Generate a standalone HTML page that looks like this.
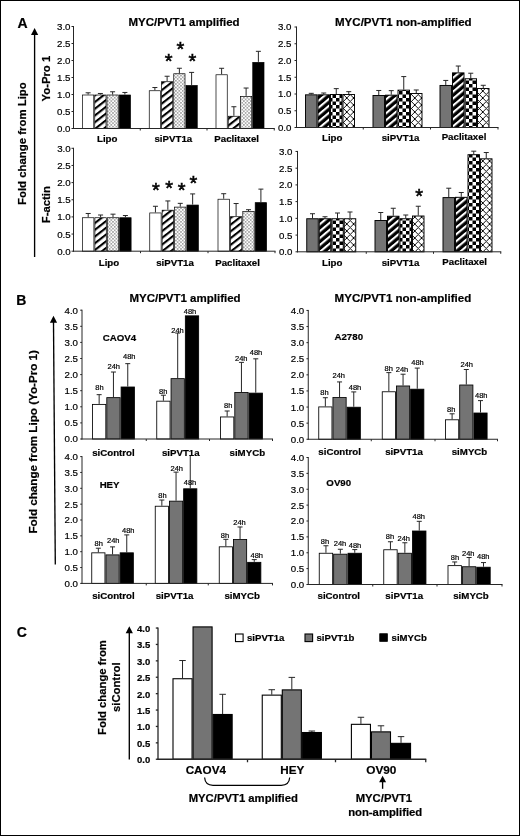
<!DOCTYPE html>
<html lang="en">
<head>
<meta charset="utf-8">
<title>Figure: MYC/PVT1 amplified vs non-amplified</title>
<style>
html,body{margin:0;padding:0;background:#fff;}
body{width:520px;height:836px;overflow:hidden;}
svg{display:block;font-family:"Liberation Sans",Arial,Helvetica,sans-serif;fill:#000;}
text{stroke:#000;stroke-width:0.2px;}
</style>
</head>
<body>
<svg width="520" height="836" viewBox="0 0 520 836">
<defs>
<pattern id="hatchL" width="8" height="5.3" patternUnits="userSpaceOnUse" patternTransform="rotate(-38)">
<rect width="8" height="5.3" fill="#fff"/><rect width="8" height="2.1" fill="#000"/>
</pattern>
<pattern id="hatchR" width="8" height="5.3" patternUnits="userSpaceOnUse" patternTransform="rotate(-40)">
<rect width="8" height="5.3" fill="#000"/><rect width="8" height="2.1" fill="#fff"/>
</pattern>
<pattern id="dots" width="3.4" height="3.4" patternUnits="userSpaceOnUse">
<rect width="3.4" height="3.4" fill="#fff"/><rect x="0.2" y="0.2" width="1.2" height="1.2" fill="#555"/><rect x="1.9" y="1.9" width="1.2" height="1.2" fill="#555"/>
</pattern>
<pattern id="check" width="7" height="7" patternUnits="userSpaceOnUse">
<rect width="7" height="7" fill="#fff"/><rect x="0" y="0" width="3.5" height="3.5" fill="#000"/><rect x="3.5" y="3.5" width="3.5" height="3.5" fill="#000"/>
</pattern>
<pattern id="cross" width="6.8" height="7" patternUnits="userSpaceOnUse">
<rect width="6.8" height="7" fill="#fff"/><path d="M0 0L6.8 7M6.8 0L0 7" stroke="#000" stroke-width="0.95" fill="none"/>
</pattern>
</defs>
<rect x="0" y="0" width="520" height="836" fill="#fff"/>
<rect x="0.5" y="0.5" width="519" height="835" fill="none" stroke="#000" stroke-width="1"/>
<line x1="88.12" y1="94.5" x2="88.12" y2="92.8" stroke="#262626" stroke-width="1"/>
<line x1="85.62" y1="92.8" x2="90.62" y2="92.8" stroke="#262626" stroke-width="1"/>
<rect x="82.5" y="95" width="11.25" height="33.5" fill="#fff" stroke="#000" stroke-width="0.7"/>
<line x1="100.38" y1="94.5" x2="100.38" y2="93.48" stroke="#262626" stroke-width="1"/>
<line x1="97.88" y1="93.48" x2="102.88" y2="93.48" stroke="#262626" stroke-width="1"/>
<rect x="94.75" y="95" width="11.25" height="33.5" fill="url(#hatchL)" stroke="#000" stroke-width="0.7"/>
<line x1="112.62" y1="94.5" x2="112.62" y2="91.78" stroke="#262626" stroke-width="1"/>
<line x1="110.12" y1="91.78" x2="115.12" y2="91.78" stroke="#262626" stroke-width="1"/>
<rect x="107" y="95" width="11.25" height="33.5" fill="url(#dots)" stroke="#000" stroke-width="0.7"/>
<line x1="124.88" y1="94.5" x2="124.88" y2="92.46" stroke="#262626" stroke-width="1"/>
<line x1="122.38" y1="92.46" x2="127.38" y2="92.46" stroke="#262626" stroke-width="1"/>
<rect x="119.25" y="95" width="11.25" height="33.5" fill="#000" stroke="#000" stroke-width="0.7"/>
<line x1="154.88" y1="90.25" x2="154.88" y2="87.53" stroke="#262626" stroke-width="1"/>
<line x1="152.38" y1="87.53" x2="157.38" y2="87.53" stroke="#262626" stroke-width="1"/>
<rect x="149.25" y="90.75" width="11.25" height="37.75" fill="#fff" stroke="#000" stroke-width="0.7"/>
<line x1="167.12" y1="81.24" x2="167.12" y2="76.24" stroke="#262626" stroke-width="1"/>
<line x1="164.62" y1="76.24" x2="169.62" y2="76.24" stroke="#262626" stroke-width="1"/>
<rect x="161.5" y="81.74" width="11.25" height="46.76" fill="url(#hatchL)" stroke="#000" stroke-width="0.7"/>
<line x1="179.38" y1="73.25" x2="179.38" y2="68.25" stroke="#262626" stroke-width="1"/>
<line x1="176.88" y1="68.25" x2="181.88" y2="68.25" stroke="#262626" stroke-width="1"/>
<rect x="173.75" y="73.75" width="11.25" height="54.75" fill="url(#dots)" stroke="#000" stroke-width="0.7"/>
<line x1="191.62" y1="84.98" x2="191.62" y2="72.4" stroke="#262626" stroke-width="1"/>
<line x1="189.12" y1="72.4" x2="194.12" y2="72.4" stroke="#262626" stroke-width="1"/>
<rect x="186" y="85.48" width="11.25" height="43.02" fill="#000" stroke="#000" stroke-width="0.7"/>
<line x1="221.62" y1="74.27" x2="221.62" y2="68.29" stroke="#262626" stroke-width="1"/>
<line x1="219.12" y1="68.29" x2="224.12" y2="68.29" stroke="#262626" stroke-width="1"/>
<rect x="216" y="74.77" width="11.25" height="53.73" fill="#fff" stroke="#000" stroke-width="0.7"/>
<line x1="233.88" y1="115.75" x2="233.88" y2="106.74" stroke="#262626" stroke-width="1"/>
<line x1="231.38" y1="106.74" x2="236.38" y2="106.74" stroke="#262626" stroke-width="1"/>
<rect x="228.25" y="116.25" width="11.25" height="12.25" fill="url(#hatchL)" stroke="#000" stroke-width="0.7"/>
<line x1="246.12" y1="95.86" x2="246.12" y2="88.04" stroke="#262626" stroke-width="1"/>
<line x1="243.62" y1="88.04" x2="248.62" y2="88.04" stroke="#262626" stroke-width="1"/>
<rect x="240.5" y="96.36" width="11.25" height="32.14" fill="url(#dots)" stroke="#000" stroke-width="0.7"/>
<line x1="258.38" y1="61.86" x2="258.38" y2="51.32" stroke="#262626" stroke-width="1"/>
<line x1="255.88" y1="51.32" x2="260.88" y2="51.32" stroke="#262626" stroke-width="1"/>
<rect x="252.75" y="62.36" width="11.25" height="66.14" fill="#000" stroke="#000" stroke-width="0.7"/>
<line x1="73.5" y1="26" x2="73.5" y2="129" stroke="#262626" stroke-width="1"/>
<line x1="71.5" y1="128.5" x2="73.5" y2="128.5" stroke="#262626" stroke-width="1"/>
<text x="70.5" y="131.99" font-size="9.7" text-anchor="end">0.0</text>
<line x1="71.5" y1="111.5" x2="73.5" y2="111.5" stroke="#262626" stroke-width="1"/>
<text x="70.5" y="114.99" font-size="9.7" text-anchor="end">0.5</text>
<line x1="71.5" y1="94.5" x2="73.5" y2="94.5" stroke="#262626" stroke-width="1"/>
<text x="70.5" y="97.99" font-size="9.7" text-anchor="end">1.0</text>
<line x1="71.5" y1="77.5" x2="73.5" y2="77.5" stroke="#262626" stroke-width="1"/>
<text x="70.5" y="80.99" font-size="9.7" text-anchor="end">1.5</text>
<line x1="71.5" y1="60.5" x2="73.5" y2="60.5" stroke="#262626" stroke-width="1"/>
<text x="70.5" y="63.99" font-size="9.7" text-anchor="end">2.0</text>
<line x1="71.5" y1="43.5" x2="73.5" y2="43.5" stroke="#262626" stroke-width="1"/>
<text x="70.5" y="46.99" font-size="9.7" text-anchor="end">2.5</text>
<line x1="71.5" y1="26.5" x2="73.5" y2="26.5" stroke="#262626" stroke-width="1"/>
<text x="70.5" y="29.99" font-size="9.7" text-anchor="end">3.0</text>
<line x1="73" y1="128.5" x2="274.75" y2="128.5" stroke="#262626" stroke-width="1"/>
<line x1="140.25" y1="128.5" x2="140.25" y2="130.5" stroke="#262626" stroke-width="1"/>
<line x1="207" y1="128.5" x2="207" y2="130.5" stroke="#262626" stroke-width="1"/>
<line x1="274.25" y1="128.5" x2="274.25" y2="130.5" stroke="#262626" stroke-width="1"/>
<line x1="311.25" y1="94.34" x2="311.25" y2="93.33" stroke="#262626" stroke-width="1"/>
<line x1="308.75" y1="93.33" x2="313.75" y2="93.33" stroke="#262626" stroke-width="1"/>
<rect x="305.5" y="94.84" width="11.5" height="32.66" fill="#747474" stroke="#000" stroke-width="0.95"/>
<line x1="323.75" y1="94.34" x2="323.75" y2="93" stroke="#262626" stroke-width="1"/>
<line x1="321.25" y1="93" x2="326.25" y2="93" stroke="#262626" stroke-width="1"/>
<rect x="318" y="94.84" width="11.5" height="32.66" fill="url(#hatchR)" stroke="#000" stroke-width="0.95"/>
<line x1="336.25" y1="94" x2="336.25" y2="88.64" stroke="#262626" stroke-width="1"/>
<line x1="333.75" y1="88.64" x2="338.75" y2="88.64" stroke="#262626" stroke-width="1"/>
<rect x="330.5" y="94.5" width="11.5" height="33" fill="url(#check)" stroke="#000" stroke-width="0.95"/>
<line x1="348.75" y1="94" x2="348.75" y2="91.66" stroke="#262626" stroke-width="1"/>
<line x1="346.25" y1="91.66" x2="351.25" y2="91.66" stroke="#262626" stroke-width="1"/>
<rect x="343" y="94.5" width="11.5" height="33" fill="url(#cross)" stroke="#000" stroke-width="0.95"/>
<line x1="378.75" y1="95" x2="378.75" y2="90.48" stroke="#262626" stroke-width="1"/>
<line x1="376.25" y1="90.48" x2="381.25" y2="90.48" stroke="#262626" stroke-width="1"/>
<rect x="373" y="95.5" width="11.5" height="32" fill="#747474" stroke="#000" stroke-width="0.95"/>
<line x1="391.25" y1="94.67" x2="391.25" y2="90.65" stroke="#262626" stroke-width="1"/>
<line x1="388.75" y1="90.65" x2="393.75" y2="90.65" stroke="#262626" stroke-width="1"/>
<rect x="385.5" y="95.17" width="11.5" height="32.33" fill="url(#hatchR)" stroke="#000" stroke-width="0.95"/>
<line x1="403.75" y1="89.65" x2="403.75" y2="76.58" stroke="#262626" stroke-width="1"/>
<line x1="401.25" y1="76.58" x2="406.25" y2="76.58" stroke="#262626" stroke-width="1"/>
<rect x="398" y="90.15" width="11.5" height="37.35" fill="url(#check)" stroke="#000" stroke-width="0.95"/>
<line x1="416.25" y1="93" x2="416.25" y2="89.98" stroke="#262626" stroke-width="1"/>
<line x1="413.75" y1="89.98" x2="418.75" y2="89.98" stroke="#262626" stroke-width="1"/>
<rect x="410.5" y="93.5" width="11.5" height="34" fill="url(#cross)" stroke="#000" stroke-width="0.95"/>
<line x1="445.75" y1="84.95" x2="445.75" y2="80.43" stroke="#262626" stroke-width="1"/>
<line x1="443.25" y1="80.43" x2="448.25" y2="80.43" stroke="#262626" stroke-width="1"/>
<rect x="440" y="85.45" width="11.5" height="42.05" fill="#747474" stroke="#000" stroke-width="0.95"/>
<line x1="458.25" y1="72.39" x2="458.25" y2="66.03" stroke="#262626" stroke-width="1"/>
<line x1="455.75" y1="66.03" x2="460.75" y2="66.03" stroke="#262626" stroke-width="1"/>
<rect x="452.5" y="72.89" width="11.5" height="54.61" fill="url(#hatchR)" stroke="#000" stroke-width="0.95"/>
<line x1="470.75" y1="78.25" x2="470.75" y2="73.23" stroke="#262626" stroke-width="1"/>
<line x1="468.25" y1="73.23" x2="473.25" y2="73.23" stroke="#262626" stroke-width="1"/>
<rect x="465" y="78.75" width="11.5" height="48.75" fill="url(#check)" stroke="#000" stroke-width="0.95"/>
<line x1="483.25" y1="87.97" x2="483.25" y2="85.29" stroke="#262626" stroke-width="1"/>
<line x1="480.75" y1="85.29" x2="485.75" y2="85.29" stroke="#262626" stroke-width="1"/>
<rect x="477.5" y="88.47" width="11.5" height="39.03" fill="url(#cross)" stroke="#000" stroke-width="0.95"/>
<line x1="296.5" y1="26.5" x2="296.5" y2="128" stroke="#262626" stroke-width="1"/>
<line x1="294.5" y1="127.5" x2="296.5" y2="127.5" stroke="#262626" stroke-width="1"/>
<text x="291.4" y="130.99" font-size="9.7" text-anchor="end">0.0</text>
<line x1="294.5" y1="110.75" x2="296.5" y2="110.75" stroke="#262626" stroke-width="1"/>
<text x="291.4" y="114.24" font-size="9.7" text-anchor="end">0.5</text>
<line x1="294.5" y1="94" x2="296.5" y2="94" stroke="#262626" stroke-width="1"/>
<text x="291.4" y="97.49" font-size="9.7" text-anchor="end">1.0</text>
<line x1="294.5" y1="77.25" x2="296.5" y2="77.25" stroke="#262626" stroke-width="1"/>
<text x="291.4" y="80.74" font-size="9.7" text-anchor="end">1.5</text>
<line x1="294.5" y1="60.5" x2="296.5" y2="60.5" stroke="#262626" stroke-width="1"/>
<text x="291.4" y="63.99" font-size="9.7" text-anchor="end">2.0</text>
<line x1="294.5" y1="43.75" x2="296.5" y2="43.75" stroke="#262626" stroke-width="1"/>
<text x="291.4" y="47.24" font-size="9.7" text-anchor="end">2.5</text>
<line x1="294.5" y1="27" x2="296.5" y2="27" stroke="#262626" stroke-width="1"/>
<text x="291.4" y="30.49" font-size="9.7" text-anchor="end">3.0</text>
<line x1="296" y1="127.5" x2="498.5" y2="127.5" stroke="#262626" stroke-width="1"/>
<line x1="363.25" y1="127.5" x2="363.25" y2="129.5" stroke="#262626" stroke-width="1"/>
<line x1="430.5" y1="127.5" x2="430.5" y2="129.5" stroke="#262626" stroke-width="1"/>
<line x1="498" y1="127.5" x2="498" y2="129.5" stroke="#262626" stroke-width="1"/>
<line x1="88.2" y1="217.24" x2="88.2" y2="213.47" stroke="#262626" stroke-width="1"/>
<line x1="85.7" y1="213.47" x2="90.7" y2="213.47" stroke="#262626" stroke-width="1"/>
<rect x="82.5" y="217.74" width="11.4" height="33.46" fill="#fff" stroke="#000" stroke-width="0.7"/>
<line x1="100.6" y1="217.24" x2="100.6" y2="215.01" stroke="#262626" stroke-width="1"/>
<line x1="98.1" y1="215.01" x2="103.1" y2="215.01" stroke="#262626" stroke-width="1"/>
<rect x="94.9" y="217.74" width="11.4" height="33.46" fill="url(#hatchL)" stroke="#000" stroke-width="0.7"/>
<line x1="113" y1="217.24" x2="113" y2="214.16" stroke="#262626" stroke-width="1"/>
<line x1="110.5" y1="214.16" x2="115.5" y2="214.16" stroke="#262626" stroke-width="1"/>
<rect x="107.3" y="217.74" width="11.4" height="33.46" fill="url(#dots)" stroke="#000" stroke-width="0.7"/>
<line x1="125.4" y1="217.24" x2="125.4" y2="215.53" stroke="#262626" stroke-width="1"/>
<line x1="122.9" y1="215.53" x2="127.9" y2="215.53" stroke="#262626" stroke-width="1"/>
<rect x="119.7" y="217.74" width="11.4" height="33.46" fill="#000" stroke="#000" stroke-width="0.7"/>
<line x1="155.45" y1="212.44" x2="155.45" y2="206.27" stroke="#262626" stroke-width="1"/>
<line x1="152.95" y1="206.27" x2="157.95" y2="206.27" stroke="#262626" stroke-width="1"/>
<rect x="149.75" y="212.94" width="11.4" height="38.26" fill="#fff" stroke="#000" stroke-width="0.7"/>
<line x1="167.85" y1="209.7" x2="167.85" y2="200.95" stroke="#262626" stroke-width="1"/>
<line x1="165.35" y1="200.95" x2="170.35" y2="200.95" stroke="#262626" stroke-width="1"/>
<rect x="162.15" y="210.2" width="11.4" height="41" fill="url(#hatchL)" stroke="#000" stroke-width="0.7"/>
<line x1="180.25" y1="206.61" x2="180.25" y2="203.35" stroke="#262626" stroke-width="1"/>
<line x1="177.75" y1="203.35" x2="182.75" y2="203.35" stroke="#262626" stroke-width="1"/>
<rect x="174.55" y="207.11" width="11.4" height="44.09" fill="url(#dots)" stroke="#000" stroke-width="0.7"/>
<line x1="192.65" y1="204.55" x2="192.65" y2="193.92" stroke="#262626" stroke-width="1"/>
<line x1="190.15" y1="193.92" x2="195.15" y2="193.92" stroke="#262626" stroke-width="1"/>
<rect x="186.95" y="205.05" width="11.4" height="46.15" fill="#000" stroke="#000" stroke-width="0.7"/>
<line x1="223.7" y1="198.72" x2="223.7" y2="193.71" stroke="#262626" stroke-width="1"/>
<line x1="221.2" y1="193.71" x2="226.2" y2="193.71" stroke="#262626" stroke-width="1"/>
<rect x="218" y="199.22" width="11.4" height="51.98" fill="#fff" stroke="#000" stroke-width="0.7"/>
<line x1="236.1" y1="216.21" x2="236.1" y2="203.52" stroke="#262626" stroke-width="1"/>
<line x1="233.6" y1="203.52" x2="238.6" y2="203.52" stroke="#262626" stroke-width="1"/>
<rect x="230.4" y="216.71" width="11.4" height="34.49" fill="url(#hatchL)" stroke="#000" stroke-width="0.7"/>
<line x1="248.5" y1="211.07" x2="248.5" y2="209.7" stroke="#262626" stroke-width="1"/>
<line x1="246" y1="209.7" x2="251" y2="209.7" stroke="#262626" stroke-width="1"/>
<rect x="242.8" y="211.57" width="11.4" height="39.63" fill="url(#dots)" stroke="#000" stroke-width="0.7"/>
<line x1="260.9" y1="202.15" x2="260.9" y2="189.12" stroke="#262626" stroke-width="1"/>
<line x1="258.4" y1="189.12" x2="263.4" y2="189.12" stroke="#262626" stroke-width="1"/>
<rect x="255.2" y="202.65" width="11.4" height="48.55" fill="#000" stroke="#000" stroke-width="0.7"/>
<line x1="73.5" y1="147.8" x2="73.5" y2="251.7" stroke="#262626" stroke-width="1"/>
<line x1="71.5" y1="251.2" x2="73.5" y2="251.2" stroke="#262626" stroke-width="1"/>
<text x="70.7" y="254.69" font-size="9.7" text-anchor="end">0.0</text>
<line x1="71.5" y1="234.05" x2="73.5" y2="234.05" stroke="#262626" stroke-width="1"/>
<text x="70.7" y="237.54" font-size="9.7" text-anchor="end">0.5</text>
<line x1="71.5" y1="216.9" x2="73.5" y2="216.9" stroke="#262626" stroke-width="1"/>
<text x="70.7" y="220.39" font-size="9.7" text-anchor="end">1.0</text>
<line x1="71.5" y1="199.75" x2="73.5" y2="199.75" stroke="#262626" stroke-width="1"/>
<text x="70.7" y="203.24" font-size="9.7" text-anchor="end">1.5</text>
<line x1="71.5" y1="182.6" x2="73.5" y2="182.6" stroke="#262626" stroke-width="1"/>
<text x="70.7" y="186.09" font-size="9.7" text-anchor="end">2.0</text>
<line x1="71.5" y1="165.45" x2="73.5" y2="165.45" stroke="#262626" stroke-width="1"/>
<text x="70.7" y="168.94" font-size="9.7" text-anchor="end">2.5</text>
<line x1="71.5" y1="148.3" x2="73.5" y2="148.3" stroke="#262626" stroke-width="1"/>
<text x="70.7" y="151.79" font-size="9.7" text-anchor="end">3.0</text>
<line x1="73" y1="251.2" x2="275.5" y2="251.2" stroke="#262626" stroke-width="1"/>
<line x1="140.5" y1="251.2" x2="140.5" y2="253.2" stroke="#262626" stroke-width="1"/>
<line x1="208" y1="251.2" x2="208" y2="253.2" stroke="#262626" stroke-width="1"/>
<line x1="275" y1="251.2" x2="275" y2="253.2" stroke="#262626" stroke-width="1"/>
<line x1="312.5" y1="218.25" x2="312.5" y2="213.73" stroke="#262626" stroke-width="1"/>
<line x1="310" y1="213.73" x2="315" y2="213.73" stroke="#262626" stroke-width="1"/>
<rect x="306.75" y="218.75" width="11.5" height="33.05" fill="#747474" stroke="#000" stroke-width="0.95"/>
<line x1="325" y1="218.25" x2="325" y2="216.74" stroke="#262626" stroke-width="1"/>
<line x1="322.5" y1="216.74" x2="327.5" y2="216.74" stroke="#262626" stroke-width="1"/>
<rect x="319.25" y="218.75" width="11.5" height="33.05" fill="url(#hatchR)" stroke="#000" stroke-width="0.95"/>
<line x1="337.5" y1="218.25" x2="337.5" y2="213" stroke="#262626" stroke-width="1"/>
<line x1="335" y1="213" x2="340" y2="213" stroke="#262626" stroke-width="1"/>
<rect x="331.75" y="218.75" width="11.5" height="33.05" fill="url(#check)" stroke="#000" stroke-width="0.95"/>
<line x1="350" y1="218.25" x2="350" y2="211.99" stroke="#262626" stroke-width="1"/>
<line x1="347.5" y1="211.99" x2="352.5" y2="211.99" stroke="#262626" stroke-width="1"/>
<rect x="344.25" y="218.75" width="11.5" height="33.05" fill="url(#cross)" stroke="#000" stroke-width="0.95"/>
<line x1="380.75" y1="219.99" x2="380.75" y2="212.5" stroke="#262626" stroke-width="1"/>
<line x1="378.25" y1="212.5" x2="383.25" y2="212.5" stroke="#262626" stroke-width="1"/>
<rect x="375" y="220.49" width="11.5" height="31.31" fill="#747474" stroke="#000" stroke-width="0.95"/>
<line x1="393.25" y1="215.74" x2="393.25" y2="208.25" stroke="#262626" stroke-width="1"/>
<line x1="390.75" y1="208.25" x2="395.75" y2="208.25" stroke="#262626" stroke-width="1"/>
<rect x="387.5" y="216.24" width="11.5" height="35.56" fill="url(#hatchR)" stroke="#000" stroke-width="0.95"/>
<line x1="405.75" y1="218.25" x2="405.75" y2="215" stroke="#262626" stroke-width="1"/>
<line x1="403.25" y1="215" x2="408.25" y2="215" stroke="#262626" stroke-width="1"/>
<rect x="400" y="218.75" width="11.5" height="33.05" fill="url(#check)" stroke="#000" stroke-width="0.95"/>
<line x1="418.25" y1="215.51" x2="418.25" y2="206.24" stroke="#262626" stroke-width="1"/>
<line x1="415.75" y1="206.24" x2="420.75" y2="206.24" stroke="#262626" stroke-width="1"/>
<rect x="412.5" y="216.01" width="11.5" height="35.79" fill="url(#cross)" stroke="#000" stroke-width="0.95"/>
<line x1="448.75" y1="197.11" x2="448.75" y2="188.21" stroke="#262626" stroke-width="1"/>
<line x1="446.25" y1="188.21" x2="451.25" y2="188.21" stroke="#262626" stroke-width="1"/>
<rect x="443" y="197.61" width="11.5" height="54.19" fill="#747474" stroke="#000" stroke-width="0.95"/>
<line x1="461.25" y1="196.81" x2="461.25" y2="192.49" stroke="#262626" stroke-width="1"/>
<line x1="458.75" y1="192.49" x2="463.75" y2="192.49" stroke="#262626" stroke-width="1"/>
<rect x="455.5" y="197.31" width="11.5" height="54.49" fill="url(#hatchR)" stroke="#000" stroke-width="0.95"/>
<line x1="473.75" y1="154.19" x2="473.75" y2="151.18" stroke="#262626" stroke-width="1"/>
<line x1="471.25" y1="151.18" x2="476.25" y2="151.18" stroke="#262626" stroke-width="1"/>
<rect x="468" y="154.69" width="11.5" height="97.11" fill="url(#check)" stroke="#000" stroke-width="0.95"/>
<line x1="486.25" y1="158.31" x2="486.25" y2="152.52" stroke="#262626" stroke-width="1"/>
<line x1="483.75" y1="152.52" x2="488.75" y2="152.52" stroke="#262626" stroke-width="1"/>
<rect x="480.5" y="158.81" width="11.5" height="92.99" fill="url(#cross)" stroke="#000" stroke-width="0.95"/>
<line x1="297.5" y1="150.95" x2="297.5" y2="252.3" stroke="#262626" stroke-width="1"/>
<line x1="295.5" y1="251.8" x2="297.5" y2="251.8" stroke="#262626" stroke-width="1"/>
<text x="292.4" y="255.29" font-size="9.7" text-anchor="end">0.0</text>
<line x1="295.5" y1="235.08" x2="297.5" y2="235.08" stroke="#262626" stroke-width="1"/>
<text x="292.4" y="238.57" font-size="9.7" text-anchor="end">0.5</text>
<line x1="295.5" y1="218.35" x2="297.5" y2="218.35" stroke="#262626" stroke-width="1"/>
<text x="292.4" y="221.84" font-size="9.7" text-anchor="end">1.0</text>
<line x1="295.5" y1="201.62" x2="297.5" y2="201.62" stroke="#262626" stroke-width="1"/>
<text x="292.4" y="205.12" font-size="9.7" text-anchor="end">1.5</text>
<line x1="295.5" y1="184.9" x2="297.5" y2="184.9" stroke="#262626" stroke-width="1"/>
<text x="292.4" y="188.39" font-size="9.7" text-anchor="end">2.0</text>
<line x1="295.5" y1="168.18" x2="297.5" y2="168.18" stroke="#262626" stroke-width="1"/>
<text x="292.4" y="171.67" font-size="9.7" text-anchor="end">2.5</text>
<line x1="295.5" y1="151.45" x2="297.5" y2="151.45" stroke="#262626" stroke-width="1"/>
<text x="292.4" y="154.94" font-size="9.7" text-anchor="end">3.0</text>
<line x1="297" y1="251.8" x2="501.25" y2="251.8" stroke="#262626" stroke-width="1"/>
<line x1="366.25" y1="251.8" x2="366.25" y2="253.8" stroke="#262626" stroke-width="1"/>
<line x1="433.5" y1="251.8" x2="433.5" y2="253.8" stroke="#262626" stroke-width="1"/>
<line x1="500.75" y1="251.8" x2="500.75" y2="253.8" stroke="#262626" stroke-width="1"/>
<text x="107.25" y="141.8" font-size="9.7" font-weight="bold" text-anchor="middle">Lipo</text>
<text x="173.35" y="141.8" font-size="9.7" font-weight="bold" text-anchor="middle">siPVT1a</text>
<text x="236.7" y="141.8" font-size="9.7" font-weight="bold" text-anchor="middle">Paclitaxel</text>
<text x="332.25" y="141.3" font-size="9.7" font-weight="bold" text-anchor="middle">Lipo</text>
<text x="400.6" y="141.3" font-size="9.7" font-weight="bold" text-anchor="middle">siPVT1a</text>
<text x="464" y="140.3" font-size="9.7" font-weight="bold" text-anchor="middle">Paclitaxel</text>
<text x="109" y="265.5" font-size="9.7" font-weight="bold" text-anchor="middle">Lipo</text>
<text x="175" y="265.5" font-size="9.7" font-weight="bold" text-anchor="middle">siPVT1a</text>
<text x="237.6" y="266" font-size="9.7" font-weight="bold" text-anchor="middle">Paclitaxel</text>
<text x="332.2" y="266" font-size="9.7" font-weight="bold" text-anchor="middle">Lipo</text>
<text x="400.5" y="266" font-size="9.7" font-weight="bold" text-anchor="middle">siPVT1a</text>
<text x="464.7" y="264.6" font-size="9.7" font-weight="bold" text-anchor="middle">Paclitaxel</text>
<text x="168.65" y="68.45" font-size="20" text-anchor="middle" style="stroke-width:.55px">*</text>
<text x="180.4" y="56.45" font-size="20" text-anchor="middle" style="stroke-width:.55px">*</text>
<text x="192.4" y="68.45" font-size="20" text-anchor="middle" style="stroke-width:.55px">*</text>
<text x="155.9" y="196.7" font-size="20" text-anchor="middle" style="stroke-width:.55px">*</text>
<text x="169.15" y="195.45" font-size="20" text-anchor="middle" style="stroke-width:.55px">*</text>
<text x="181.65" y="196.7" font-size="20" text-anchor="middle" style="stroke-width:.55px">*</text>
<text x="193.4" y="189.7" font-size="20" text-anchor="middle" style="stroke-width:.55px">*</text>
<text x="419.15" y="202.7" font-size="20" text-anchor="middle" style="stroke-width:.55px">*</text>
<text x="184" y="26" font-size="11.5" font-weight="bold" text-anchor="middle">MYC/PVT1 amplified</text>
<text x="403.3" y="26" font-size="11.55" font-weight="bold" text-anchor="middle">MYC/PVT1 non-amplified</text>
<text x="22.5" y="27.5" font-size="14" font-weight="bold" text-anchor="middle">A</text>
<text x="26.1" y="143.6" font-size="11.4" font-weight="bold" text-anchor="middle" transform="rotate(-90 26.1 143.6)">Fold change from Lipo</text>
<text x="49.9" y="78.6" font-size="11.3" font-weight="bold" text-anchor="middle" transform="rotate(-90 49.9 78.6)">Yo-Pro 1</text>
<text x="49.9" y="204.7" font-size="11.3" font-weight="bold" text-anchor="middle" transform="rotate(-90 49.9 204.7)">F-actin</text>
<line x1="34.6" y1="34" x2="34.6" y2="257" stroke="#000" stroke-width="1.35"/>
<path d="M34.6 28L38.2 35L31 35Z" fill="#000"/>
<line x1="99.15" y1="403.9" x2="99.15" y2="394.66" stroke="#262626" stroke-width="1"/>
<line x1="96.65" y1="394.66" x2="101.65" y2="394.66" stroke="#262626" stroke-width="1"/>
<rect x="92.5" y="404.4" width="13.3" height="34.6" fill="#fff" stroke="#000" stroke-width="0.85"/>
<line x1="113.45" y1="397.14" x2="113.45" y2="372.02" stroke="#262626" stroke-width="1"/>
<line x1="110.95" y1="372.02" x2="115.95" y2="372.02" stroke="#262626" stroke-width="1"/>
<rect x="106.8" y="397.64" width="13.3" height="41.36" fill="#747474" stroke="#000" stroke-width="0.85"/>
<line x1="127.75" y1="386.51" x2="127.75" y2="363.65" stroke="#262626" stroke-width="1"/>
<line x1="125.25" y1="363.65" x2="130.25" y2="363.65" stroke="#262626" stroke-width="1"/>
<rect x="121.1" y="387.01" width="13.3" height="51.99" fill="#000" stroke="#000" stroke-width="0.85"/>
<line x1="163.4" y1="400.68" x2="163.4" y2="395.21" stroke="#262626" stroke-width="1"/>
<line x1="160.9" y1="395.21" x2="165.9" y2="395.21" stroke="#262626" stroke-width="1"/>
<rect x="156.75" y="401.18" width="13.3" height="37.82" fill="#fff" stroke="#000" stroke-width="0.85"/>
<line x1="177.7" y1="378.14" x2="177.7" y2="333.06" stroke="#262626" stroke-width="1"/>
<line x1="175.2" y1="333.06" x2="180.2" y2="333.06" stroke="#262626" stroke-width="1"/>
<rect x="171.05" y="378.64" width="13.3" height="60.36" fill="#747474" stroke="#000" stroke-width="0.85"/>
<rect x="185.35" y="315.85" width="13.3" height="123.15" fill="#000" stroke="#000" stroke-width="0.85"/>
<line x1="227.15" y1="416.46" x2="227.15" y2="410.99" stroke="#262626" stroke-width="1"/>
<line x1="224.65" y1="410.99" x2="229.65" y2="410.99" stroke="#262626" stroke-width="1"/>
<rect x="220.5" y="416.96" width="13.3" height="22.04" fill="#fff" stroke="#000" stroke-width="0.85"/>
<line x1="241.45" y1="391.99" x2="241.45" y2="362.36" stroke="#262626" stroke-width="1"/>
<line x1="238.95" y1="362.36" x2="243.95" y2="362.36" stroke="#262626" stroke-width="1"/>
<rect x="234.8" y="392.49" width="13.3" height="46.51" fill="#747474" stroke="#000" stroke-width="0.85"/>
<line x1="255.75" y1="392.63" x2="255.75" y2="358.82" stroke="#262626" stroke-width="1"/>
<line x1="253.25" y1="358.82" x2="258.25" y2="358.82" stroke="#262626" stroke-width="1"/>
<rect x="249.1" y="393.13" width="13.3" height="45.87" fill="#000" stroke="#000" stroke-width="0.85"/>
<line x1="82" y1="309.7" x2="82" y2="439.5" stroke="#262626" stroke-width="1"/>
<line x1="80.2" y1="439" x2="82" y2="439" stroke="#262626" stroke-width="1"/>
<text x="78" y="442.49" font-size="9.7" text-anchor="end">0.0</text>
<line x1="80.2" y1="422.9" x2="82" y2="422.9" stroke="#262626" stroke-width="1"/>
<text x="78" y="426.39" font-size="9.7" text-anchor="end">0.5</text>
<line x1="80.2" y1="406.8" x2="82" y2="406.8" stroke="#262626" stroke-width="1"/>
<text x="78" y="410.29" font-size="9.7" text-anchor="end">1.0</text>
<line x1="80.2" y1="390.7" x2="82" y2="390.7" stroke="#262626" stroke-width="1"/>
<text x="78" y="394.19" font-size="9.7" text-anchor="end">1.5</text>
<line x1="80.2" y1="374.6" x2="82" y2="374.6" stroke="#262626" stroke-width="1"/>
<text x="78" y="378.09" font-size="9.7" text-anchor="end">2.0</text>
<line x1="80.2" y1="358.5" x2="82" y2="358.5" stroke="#262626" stroke-width="1"/>
<text x="78" y="361.99" font-size="9.7" text-anchor="end">2.5</text>
<line x1="80.2" y1="342.4" x2="82" y2="342.4" stroke="#262626" stroke-width="1"/>
<text x="78" y="345.89" font-size="9.7" text-anchor="end">3.0</text>
<line x1="80.2" y1="326.3" x2="82" y2="326.3" stroke="#262626" stroke-width="1"/>
<text x="78" y="329.79" font-size="9.7" text-anchor="end">3.5</text>
<line x1="80.2" y1="310.2" x2="82" y2="310.2" stroke="#262626" stroke-width="1"/>
<text x="78" y="313.69" font-size="9.7" text-anchor="end">4.0</text>
<line x1="81.5" y1="439" x2="273" y2="439" stroke="#262626" stroke-width="1"/>
<line x1="146.25" y1="439" x2="146.25" y2="441" stroke="#262626" stroke-width="1"/>
<line x1="209.5" y1="439" x2="209.5" y2="441" stroke="#262626" stroke-width="1"/>
<line x1="272.5" y1="439" x2="272.5" y2="441" stroke="#262626" stroke-width="1"/>
<text x="99.5" y="390" font-size="7.5" text-anchor="middle">8h</text>
<text x="113.75" y="369.25" font-size="7.5" text-anchor="middle">24h</text>
<text x="129.25" y="359.25" font-size="7.5" text-anchor="middle">48h</text>
<text x="163.25" y="393.75" font-size="7.5" text-anchor="middle">8h</text>
<text x="177.5" y="332.5" font-size="7.5" text-anchor="middle">24h</text>
<text x="190" y="313.75" font-size="7.5" text-anchor="middle">48h</text>
<text x="228.25" y="407.5" font-size="7.5" text-anchor="middle">8h</text>
<text x="241.25" y="360.5" font-size="7.5" text-anchor="middle">24h</text>
<text x="256" y="355" font-size="7.5" text-anchor="middle">48h</text>
<line x1="98.35" y1="552.33" x2="98.35" y2="548.21" stroke="#262626" stroke-width="1"/>
<line x1="95.85" y1="548.21" x2="100.85" y2="548.21" stroke="#262626" stroke-width="1"/>
<rect x="91.75" y="552.83" width="13.2" height="30.57" fill="#fff" stroke="#000" stroke-width="0.85"/>
<line x1="112.55" y1="554.39" x2="112.55" y2="546.88" stroke="#262626" stroke-width="1"/>
<line x1="110.05" y1="546.88" x2="115.05" y2="546.88" stroke="#262626" stroke-width="1"/>
<rect x="105.95" y="554.89" width="13.2" height="28.51" fill="#747474" stroke="#000" stroke-width="0.85"/>
<line x1="126.75" y1="552.33" x2="126.75" y2="534.9" stroke="#262626" stroke-width="1"/>
<line x1="124.25" y1="534.9" x2="129.25" y2="534.9" stroke="#262626" stroke-width="1"/>
<rect x="120.15" y="552.83" width="13.2" height="30.57" fill="#000" stroke="#000" stroke-width="0.85"/>
<line x1="161.85" y1="505.73" x2="161.85" y2="500.03" stroke="#262626" stroke-width="1"/>
<line x1="159.35" y1="500.03" x2="164.35" y2="500.03" stroke="#262626" stroke-width="1"/>
<rect x="155.25" y="506.23" width="13.2" height="77.17" fill="#fff" stroke="#000" stroke-width="0.85"/>
<line x1="176.05" y1="500.66" x2="176.05" y2="472.13" stroke="#262626" stroke-width="1"/>
<line x1="173.55" y1="472.13" x2="178.55" y2="472.13" stroke="#262626" stroke-width="1"/>
<rect x="169.45" y="501.16" width="13.2" height="82.24" fill="#747474" stroke="#000" stroke-width="0.85"/>
<line x1="190.25" y1="488.3" x2="190.25" y2="456" stroke="#262626" stroke-width="1"/>
<rect x="183.65" y="488.8" width="13.2" height="94.6" fill="#000" stroke="#000" stroke-width="0.85"/>
<line x1="225.85" y1="546.31" x2="225.85" y2="539.34" stroke="#262626" stroke-width="1"/>
<line x1="223.35" y1="539.34" x2="228.35" y2="539.34" stroke="#262626" stroke-width="1"/>
<rect x="219.25" y="546.81" width="13.2" height="36.59" fill="#fff" stroke="#000" stroke-width="0.85"/>
<line x1="240.05" y1="539.02" x2="240.05" y2="526.97" stroke="#262626" stroke-width="1"/>
<line x1="237.55" y1="526.97" x2="242.55" y2="526.97" stroke="#262626" stroke-width="1"/>
<rect x="233.45" y="539.52" width="13.2" height="43.88" fill="#747474" stroke="#000" stroke-width="0.85"/>
<line x1="254.25" y1="561.84" x2="254.25" y2="559.62" stroke="#262626" stroke-width="1"/>
<line x1="251.75" y1="559.62" x2="256.75" y2="559.62" stroke="#262626" stroke-width="1"/>
<rect x="247.65" y="562.34" width="13.2" height="21.06" fill="#000" stroke="#000" stroke-width="0.85"/>
<line x1="82" y1="456.1" x2="82" y2="583.9" stroke="#262626" stroke-width="1"/>
<line x1="80.2" y1="583.4" x2="82" y2="583.4" stroke="#262626" stroke-width="1"/>
<text x="78" y="586.89" font-size="9.7" text-anchor="end">0.0</text>
<line x1="80.2" y1="567.55" x2="82" y2="567.55" stroke="#262626" stroke-width="1"/>
<text x="78" y="571.04" font-size="9.7" text-anchor="end">0.5</text>
<line x1="80.2" y1="551.7" x2="82" y2="551.7" stroke="#262626" stroke-width="1"/>
<text x="78" y="555.19" font-size="9.7" text-anchor="end">1.0</text>
<line x1="80.2" y1="535.85" x2="82" y2="535.85" stroke="#262626" stroke-width="1"/>
<text x="78" y="539.34" font-size="9.7" text-anchor="end">1.5</text>
<line x1="80.2" y1="520" x2="82" y2="520" stroke="#262626" stroke-width="1"/>
<text x="78" y="523.49" font-size="9.7" text-anchor="end">2.0</text>
<line x1="80.2" y1="504.15" x2="82" y2="504.15" stroke="#262626" stroke-width="1"/>
<text x="78" y="507.64" font-size="9.7" text-anchor="end">2.5</text>
<line x1="80.2" y1="488.3" x2="82" y2="488.3" stroke="#262626" stroke-width="1"/>
<text x="78" y="491.79" font-size="9.7" text-anchor="end">3.0</text>
<line x1="80.2" y1="472.45" x2="82" y2="472.45" stroke="#262626" stroke-width="1"/>
<text x="78" y="475.94" font-size="9.7" text-anchor="end">3.5</text>
<line x1="80.2" y1="456.6" x2="82" y2="456.6" stroke="#262626" stroke-width="1"/>
<text x="78" y="460.09" font-size="9.7" text-anchor="end">4.0</text>
<line x1="81.5" y1="583.4" x2="273" y2="583.4" stroke="#262626" stroke-width="1"/>
<line x1="146.25" y1="583.4" x2="146.25" y2="585.4" stroke="#262626" stroke-width="1"/>
<line x1="208.25" y1="583.4" x2="208.25" y2="585.4" stroke="#262626" stroke-width="1"/>
<line x1="272.5" y1="583.4" x2="272.5" y2="585.4" stroke="#262626" stroke-width="1"/>
<text x="98.75" y="546.25" font-size="7.5" text-anchor="middle">8h</text>
<text x="113.25" y="542.5" font-size="7.5" text-anchor="middle">24h</text>
<text x="128.25" y="533" font-size="7.5" text-anchor="middle">48h</text>
<text x="162.5" y="498.25" font-size="7.5" text-anchor="middle">8h</text>
<text x="176.75" y="470.5" font-size="7.5" text-anchor="middle">24h</text>
<text x="190" y="484.5" font-size="7.5" text-anchor="middle">48h</text>
<text x="225" y="537.5" font-size="7.5" text-anchor="middle">8h</text>
<text x="239.5" y="525" font-size="7.5" text-anchor="middle">24h</text>
<text x="256.75" y="557.5" font-size="7.5" text-anchor="middle">48h</text>
<line x1="325.35" y1="406.41" x2="325.35" y2="397.71" stroke="#262626" stroke-width="1"/>
<line x1="322.85" y1="397.71" x2="327.85" y2="397.71" stroke="#262626" stroke-width="1"/>
<rect x="318.75" y="406.91" width="13.2" height="32.34" fill="#fff" stroke="#000" stroke-width="0.85"/>
<line x1="339.55" y1="397.07" x2="339.55" y2="381.93" stroke="#262626" stroke-width="1"/>
<line x1="337.05" y1="381.93" x2="342.05" y2="381.93" stroke="#262626" stroke-width="1"/>
<rect x="332.95" y="397.57" width="13.2" height="41.68" fill="#747474" stroke="#000" stroke-width="0.85"/>
<line x1="353.75" y1="406.73" x2="353.75" y2="391.92" stroke="#262626" stroke-width="1"/>
<line x1="351.25" y1="391.92" x2="356.25" y2="391.92" stroke="#262626" stroke-width="1"/>
<rect x="347.15" y="407.23" width="13.2" height="32.02" fill="#000" stroke="#000" stroke-width="0.85"/>
<line x1="388.85" y1="391.27" x2="388.85" y2="372.6" stroke="#262626" stroke-width="1"/>
<line x1="386.35" y1="372.6" x2="391.35" y2="372.6" stroke="#262626" stroke-width="1"/>
<rect x="382.25" y="391.77" width="13.2" height="47.48" fill="#fff" stroke="#000" stroke-width="0.85"/>
<line x1="403.05" y1="385.48" x2="403.05" y2="374.21" stroke="#262626" stroke-width="1"/>
<line x1="400.55" y1="374.21" x2="405.55" y2="374.21" stroke="#262626" stroke-width="1"/>
<rect x="396.45" y="385.98" width="13.2" height="53.27" fill="#747474" stroke="#000" stroke-width="0.85"/>
<line x1="417.25" y1="388.7" x2="417.25" y2="368.09" stroke="#262626" stroke-width="1"/>
<line x1="414.75" y1="368.09" x2="419.75" y2="368.09" stroke="#262626" stroke-width="1"/>
<rect x="410.65" y="389.2" width="13.2" height="50.05" fill="#000" stroke="#000" stroke-width="0.85"/>
<line x1="452.1" y1="419.29" x2="452.1" y2="413.81" stroke="#262626" stroke-width="1"/>
<line x1="449.6" y1="413.81" x2="454.6" y2="413.81" stroke="#262626" stroke-width="1"/>
<rect x="445.5" y="419.79" width="13.2" height="19.46" fill="#fff" stroke="#000" stroke-width="0.85"/>
<line x1="466.3" y1="384.51" x2="466.3" y2="369.5" stroke="#262626" stroke-width="1"/>
<line x1="463.8" y1="369.5" x2="468.8" y2="369.5" stroke="#262626" stroke-width="1"/>
<rect x="459.7" y="385.01" width="13.2" height="54.24" fill="#747474" stroke="#000" stroke-width="0.85"/>
<line x1="480.5" y1="412.52" x2="480.5" y2="400.61" stroke="#262626" stroke-width="1"/>
<line x1="478" y1="400.61" x2="483" y2="400.61" stroke="#262626" stroke-width="1"/>
<rect x="473.9" y="413.02" width="13.2" height="26.23" fill="#000" stroke="#000" stroke-width="0.85"/>
<line x1="308.25" y1="309.95" x2="308.25" y2="439.75" stroke="#262626" stroke-width="1"/>
<line x1="306.45" y1="439.25" x2="308.25" y2="439.25" stroke="#262626" stroke-width="1"/>
<text x="304.25" y="442.74" font-size="9.7" text-anchor="end">0.0</text>
<line x1="306.45" y1="423.15" x2="308.25" y2="423.15" stroke="#262626" stroke-width="1"/>
<text x="304.25" y="426.64" font-size="9.7" text-anchor="end">0.5</text>
<line x1="306.45" y1="407.05" x2="308.25" y2="407.05" stroke="#262626" stroke-width="1"/>
<text x="304.25" y="410.54" font-size="9.7" text-anchor="end">1.0</text>
<line x1="306.45" y1="390.95" x2="308.25" y2="390.95" stroke="#262626" stroke-width="1"/>
<text x="304.25" y="394.44" font-size="9.7" text-anchor="end">1.5</text>
<line x1="306.45" y1="374.85" x2="308.25" y2="374.85" stroke="#262626" stroke-width="1"/>
<text x="304.25" y="378.34" font-size="9.7" text-anchor="end">2.0</text>
<line x1="306.45" y1="358.75" x2="308.25" y2="358.75" stroke="#262626" stroke-width="1"/>
<text x="304.25" y="362.24" font-size="9.7" text-anchor="end">2.5</text>
<line x1="306.45" y1="342.65" x2="308.25" y2="342.65" stroke="#262626" stroke-width="1"/>
<text x="304.25" y="346.14" font-size="9.7" text-anchor="end">3.0</text>
<line x1="306.45" y1="326.55" x2="308.25" y2="326.55" stroke="#262626" stroke-width="1"/>
<text x="304.25" y="330.04" font-size="9.7" text-anchor="end">3.5</text>
<line x1="306.45" y1="310.45" x2="308.25" y2="310.45" stroke="#262626" stroke-width="1"/>
<text x="304.25" y="313.94" font-size="9.7" text-anchor="end">4.0</text>
<line x1="307.75" y1="439.25" x2="498" y2="439.25" stroke="#262626" stroke-width="1"/>
<line x1="371.25" y1="439.25" x2="371.25" y2="441.25" stroke="#262626" stroke-width="1"/>
<line x1="435" y1="439.25" x2="435" y2="441.25" stroke="#262626" stroke-width="1"/>
<line x1="497.5" y1="439.25" x2="497.5" y2="441.25" stroke="#262626" stroke-width="1"/>
<text x="324.5" y="394.5" font-size="7.5" text-anchor="middle">8h</text>
<text x="338.75" y="378.25" font-size="7.5" text-anchor="middle">24h</text>
<text x="355" y="389.5" font-size="7.5" text-anchor="middle">48h</text>
<text x="388.75" y="370.5" font-size="7.5" text-anchor="middle">8h</text>
<text x="402" y="371.75" font-size="7.5" text-anchor="middle">24h</text>
<text x="417.5" y="364.5" font-size="7.5" text-anchor="middle">48h</text>
<text x="451.25" y="412" font-size="7.5" text-anchor="middle">8h</text>
<text x="466.75" y="366.75" font-size="7.5" text-anchor="middle">24h</text>
<text x="481.25" y="397.5" font-size="7.5" text-anchor="middle">48h</text>
<line x1="325.95" y1="552.75" x2="325.95" y2="545.76" stroke="#262626" stroke-width="1"/>
<line x1="323.45" y1="545.76" x2="328.45" y2="545.76" stroke="#262626" stroke-width="1"/>
<rect x="319.25" y="553.25" width="13.4" height="31.25" fill="#fff" stroke="#000" stroke-width="0.85"/>
<line x1="340.35" y1="553.7" x2="340.35" y2="549.26" stroke="#262626" stroke-width="1"/>
<line x1="337.85" y1="549.26" x2="342.85" y2="549.26" stroke="#262626" stroke-width="1"/>
<rect x="333.65" y="554.2" width="13.4" height="30.3" fill="#747474" stroke="#000" stroke-width="0.85"/>
<line x1="354.75" y1="552.75" x2="354.75" y2="549.58" stroke="#262626" stroke-width="1"/>
<line x1="352.25" y1="549.58" x2="357.25" y2="549.58" stroke="#262626" stroke-width="1"/>
<rect x="348.05" y="553.25" width="13.4" height="31.25" fill="#000" stroke="#000" stroke-width="0.85"/>
<line x1="390.45" y1="549.26" x2="390.45" y2="541.76" stroke="#262626" stroke-width="1"/>
<line x1="387.95" y1="541.76" x2="392.95" y2="541.76" stroke="#262626" stroke-width="1"/>
<rect x="383.75" y="549.76" width="13.4" height="34.74" fill="#fff" stroke="#000" stroke-width="0.85"/>
<line x1="404.85" y1="552.75" x2="404.85" y2="542.75" stroke="#262626" stroke-width="1"/>
<line x1="402.35" y1="542.75" x2="407.35" y2="542.75" stroke="#262626" stroke-width="1"/>
<rect x="398.15" y="553.25" width="13.4" height="31.25" fill="#747474" stroke="#000" stroke-width="0.85"/>
<line x1="419.25" y1="530.52" x2="419.25" y2="521.32" stroke="#262626" stroke-width="1"/>
<line x1="416.75" y1="521.32" x2="421.75" y2="521.32" stroke="#262626" stroke-width="1"/>
<rect x="412.55" y="531.02" width="13.4" height="53.48" fill="#000" stroke="#000" stroke-width="0.85"/>
<line x1="454.7" y1="565.13" x2="454.7" y2="561.96" stroke="#262626" stroke-width="1"/>
<line x1="452.2" y1="561.96" x2="457.2" y2="561.96" stroke="#262626" stroke-width="1"/>
<rect x="448" y="565.63" width="13.4" height="18.87" fill="#fff" stroke="#000" stroke-width="0.85"/>
<line x1="469.1" y1="566.24" x2="469.1" y2="557.51" stroke="#262626" stroke-width="1"/>
<line x1="466.6" y1="557.51" x2="471.6" y2="557.51" stroke="#262626" stroke-width="1"/>
<rect x="462.4" y="566.74" width="13.4" height="17.76" fill="#747474" stroke="#000" stroke-width="0.85"/>
<line x1="483.5" y1="566.72" x2="483.5" y2="562.59" stroke="#262626" stroke-width="1"/>
<line x1="481" y1="562.59" x2="486" y2="562.59" stroke="#262626" stroke-width="1"/>
<rect x="476.8" y="567.22" width="13.4" height="17.28" fill="#000" stroke="#000" stroke-width="0.85"/>
<line x1="308.25" y1="457" x2="308.25" y2="585" stroke="#262626" stroke-width="1"/>
<line x1="306.45" y1="584.5" x2="308.25" y2="584.5" stroke="#262626" stroke-width="1"/>
<text x="304.25" y="587.99" font-size="9.7" text-anchor="end">0.0</text>
<line x1="306.45" y1="568.62" x2="308.25" y2="568.62" stroke="#262626" stroke-width="1"/>
<text x="304.25" y="572.12" font-size="9.7" text-anchor="end">0.5</text>
<line x1="306.45" y1="552.75" x2="308.25" y2="552.75" stroke="#262626" stroke-width="1"/>
<text x="304.25" y="556.24" font-size="9.7" text-anchor="end">1.0</text>
<line x1="306.45" y1="536.88" x2="308.25" y2="536.88" stroke="#262626" stroke-width="1"/>
<text x="304.25" y="540.37" font-size="9.7" text-anchor="end">1.5</text>
<line x1="306.45" y1="521" x2="308.25" y2="521" stroke="#262626" stroke-width="1"/>
<text x="304.25" y="524.49" font-size="9.7" text-anchor="end">2.0</text>
<line x1="306.45" y1="505.12" x2="308.25" y2="505.12" stroke="#262626" stroke-width="1"/>
<text x="304.25" y="508.62" font-size="9.7" text-anchor="end">2.5</text>
<line x1="306.45" y1="489.25" x2="308.25" y2="489.25" stroke="#262626" stroke-width="1"/>
<text x="304.25" y="492.74" font-size="9.7" text-anchor="end">3.0</text>
<line x1="306.45" y1="473.38" x2="308.25" y2="473.38" stroke="#262626" stroke-width="1"/>
<text x="304.25" y="476.87" font-size="9.7" text-anchor="end">3.5</text>
<line x1="306.45" y1="457.5" x2="308.25" y2="457.5" stroke="#262626" stroke-width="1"/>
<text x="304.25" y="460.99" font-size="9.7" text-anchor="end">4.0</text>
<line x1="307.75" y1="584.5" x2="502.5" y2="584.5" stroke="#262626" stroke-width="1"/>
<line x1="372.75" y1="584.5" x2="372.75" y2="586.5" stroke="#262626" stroke-width="1"/>
<line x1="437" y1="584.5" x2="437" y2="586.5" stroke="#262626" stroke-width="1"/>
<line x1="502" y1="584.5" x2="502" y2="586.5" stroke="#262626" stroke-width="1"/>
<text x="325" y="543.75" font-size="7.5" text-anchor="middle">8h</text>
<text x="340" y="546.25" font-size="7.5" text-anchor="middle">24h</text>
<text x="355" y="548" font-size="7.5" text-anchor="middle">48h</text>
<text x="390" y="539.4" font-size="7.5" text-anchor="middle">8h</text>
<text x="403.75" y="541.25" font-size="7.5" text-anchor="middle">24h</text>
<text x="418.75" y="518.75" font-size="7.5" text-anchor="middle">48h</text>
<text x="455" y="560" font-size="7.5" text-anchor="middle">8h</text>
<text x="468.25" y="555.5" font-size="7.5" text-anchor="middle">24h</text>
<text x="483.25" y="559.25" font-size="7.5" text-anchor="middle">48h</text>
<text x="113.4" y="455.5" font-size="9.7" font-weight="bold" text-anchor="middle">siControl</text>
<text x="180.8" y="455.5" font-size="9.7" font-weight="bold" text-anchor="middle">siPVT1a</text>
<text x="247.3" y="455.5" font-size="9.7" font-weight="bold" text-anchor="middle">siMYCb</text>
<text x="113.4" y="598.5" font-size="9.7" font-weight="bold" text-anchor="middle">siControl</text>
<text x="174.6" y="598.5" font-size="9.7" font-weight="bold" text-anchor="middle">siPVT1a</text>
<text x="242.2" y="598.5" font-size="9.7" font-weight="bold" text-anchor="middle">siMYCb</text>
<text x="339.6" y="455.3" font-size="9.7" font-weight="bold" text-anchor="middle">siControl</text>
<text x="404" y="455.3" font-size="9.7" font-weight="bold" text-anchor="middle">siPVT1a</text>
<text x="469.5" y="455.3" font-size="9.7" font-weight="bold" text-anchor="middle">siMYCb</text>
<text x="338.8" y="598.6" font-size="9.7" font-weight="bold" text-anchor="middle">siControl</text>
<text x="404.2" y="598.6" font-size="9.7" font-weight="bold" text-anchor="middle">siPVT1a</text>
<text x="471" y="598.6" font-size="9.7" font-weight="bold" text-anchor="middle">siMYCb</text>
<text x="119.4" y="340.6" font-size="9.7" font-weight="bold" text-anchor="middle">CAOV4</text>
<text x="109.6" y="487.6" font-size="9.7" font-weight="bold" text-anchor="middle">HEY</text>
<text x="348.75" y="340.2" font-size="9.7" font-weight="bold" text-anchor="middle">A2780</text>
<text x="338.75" y="485.8" font-size="9.7" font-weight="bold" text-anchor="middle">OV90</text>
<text x="185" y="301.8" font-size="11.5" font-weight="bold" text-anchor="middle">MYC/PVT1 amplified</text>
<text x="402.9" y="302.4" font-size="11.55" font-weight="bold" text-anchor="middle">MYC/PVT1 non-amplified</text>
<text x="21.4" y="305" font-size="14" font-weight="bold" text-anchor="middle">B</text>
<text x="36.8" y="441.8" font-size="11.65" font-weight="bold" text-anchor="middle" transform="rotate(-90 36.8 441.8)">Fold change from Lipo (Yo-Pro 1)</text>
<line x1="53.5" y1="321.7" x2="55.3" y2="564.4" stroke="#000" stroke-width="1.35"/>
<path d="M53.5 315.7L57.1 322.7L49.9 322.7Z" fill="#000"/>
<line x1="182.53" y1="678.23" x2="182.53" y2="660.52" stroke="#262626" stroke-width="1"/>
<line x1="179.28" y1="660.52" x2="185.78" y2="660.52" stroke="#262626" stroke-width="1"/>
<rect x="173" y="678.73" width="19.05" height="80.52" fill="#fff" stroke="#000" stroke-width="1.1"/>
<rect x="193.05" y="626.91" width="19.05" height="132.34" fill="#747474" stroke="#000" stroke-width="1.1"/>
<line x1="222.62" y1="713.99" x2="222.62" y2="694.31" stroke="#262626" stroke-width="1"/>
<line x1="219.38" y1="694.31" x2="225.88" y2="694.31" stroke="#262626" stroke-width="1"/>
<rect x="213.1" y="714.49" width="19.05" height="44.76" fill="#000" stroke="#000" stroke-width="1.1"/>
<line x1="271.77" y1="694.63" x2="271.77" y2="689.71" stroke="#262626" stroke-width="1"/>
<line x1="268.52" y1="689.71" x2="275.02" y2="689.71" stroke="#262626" stroke-width="1"/>
<rect x="262.25" y="695.13" width="19.05" height="64.12" fill="#fff" stroke="#000" stroke-width="1.1"/>
<line x1="291.82" y1="689.39" x2="291.82" y2="677.38" stroke="#262626" stroke-width="1"/>
<line x1="288.57" y1="677.38" x2="295.07" y2="677.38" stroke="#262626" stroke-width="1"/>
<rect x="282.3" y="689.89" width="19.05" height="69.36" fill="#747474" stroke="#000" stroke-width="1.1"/>
<line x1="311.88" y1="732.03" x2="311.88" y2="731.04" stroke="#262626" stroke-width="1"/>
<line x1="308.62" y1="731.04" x2="315.12" y2="731.04" stroke="#262626" stroke-width="1"/>
<rect x="302.35" y="732.53" width="19.05" height="26.72" fill="#000" stroke="#000" stroke-width="1.1"/>
<line x1="360.92" y1="723.83" x2="360.92" y2="717.27" stroke="#262626" stroke-width="1"/>
<line x1="357.67" y1="717.27" x2="364.17" y2="717.27" stroke="#262626" stroke-width="1"/>
<rect x="351.4" y="724.33" width="19.05" height="34.92" fill="#fff" stroke="#000" stroke-width="1.1"/>
<line x1="380.97" y1="731.37" x2="380.97" y2="725.79" stroke="#262626" stroke-width="1"/>
<line x1="377.72" y1="725.79" x2="384.22" y2="725.79" stroke="#262626" stroke-width="1"/>
<rect x="371.45" y="731.87" width="19.05" height="27.38" fill="#747474" stroke="#000" stroke-width="1.1"/>
<line x1="401.02" y1="742.85" x2="401.02" y2="736.62" stroke="#262626" stroke-width="1"/>
<line x1="397.77" y1="736.62" x2="404.27" y2="736.62" stroke="#262626" stroke-width="1"/>
<rect x="391.5" y="743.35" width="19.05" height="15.9" fill="#000" stroke="#000" stroke-width="1.1"/>
<line x1="158" y1="627.55" x2="158" y2="759.75" stroke="#262626" stroke-width="1.3"/>
<line x1="155.8" y1="759.25" x2="158" y2="759.25" stroke="#262626" stroke-width="1.3"/>
<text x="150.2" y="763.17" font-size="9.5" font-weight="bold" text-anchor="end">0.0</text>
<line x1="155.8" y1="742.85" x2="158" y2="742.85" stroke="#262626" stroke-width="1.3"/>
<text x="150.2" y="746.77" font-size="9.5" font-weight="bold" text-anchor="end">0.5</text>
<line x1="155.8" y1="726.45" x2="158" y2="726.45" stroke="#262626" stroke-width="1.3"/>
<text x="150.2" y="730.37" font-size="9.5" font-weight="bold" text-anchor="end">1.0</text>
<line x1="155.8" y1="710.05" x2="158" y2="710.05" stroke="#262626" stroke-width="1.3"/>
<text x="150.2" y="713.97" font-size="9.5" font-weight="bold" text-anchor="end">1.5</text>
<line x1="155.8" y1="693.65" x2="158" y2="693.65" stroke="#262626" stroke-width="1.3"/>
<text x="150.2" y="697.57" font-size="9.5" font-weight="bold" text-anchor="end">2.0</text>
<line x1="155.8" y1="677.25" x2="158" y2="677.25" stroke="#262626" stroke-width="1.3"/>
<text x="150.2" y="681.17" font-size="9.5" font-weight="bold" text-anchor="end">2.5</text>
<line x1="155.8" y1="660.85" x2="158" y2="660.85" stroke="#262626" stroke-width="1.3"/>
<text x="150.2" y="664.77" font-size="9.5" font-weight="bold" text-anchor="end">3.0</text>
<line x1="155.8" y1="644.45" x2="158" y2="644.45" stroke="#262626" stroke-width="1.3"/>
<text x="150.2" y="648.37" font-size="9.5" font-weight="bold" text-anchor="end">3.5</text>
<line x1="155.8" y1="628.05" x2="158" y2="628.05" stroke="#262626" stroke-width="1.3"/>
<text x="150.2" y="631.97" font-size="9.5" font-weight="bold" text-anchor="end">4.0</text>
<line x1="157.5" y1="759.25" x2="426.25" y2="759.25" stroke="#262626" stroke-width="1.3"/>
<line x1="247.5" y1="759.25" x2="247.5" y2="762.25" stroke="#262626" stroke-width="1.3"/>
<line x1="335.5" y1="759.25" x2="335.5" y2="762.25" stroke="#262626" stroke-width="1.3"/>
<line x1="425.75" y1="759.25" x2="425.75" y2="762.25" stroke="#262626" stroke-width="1.3"/>
<line x1="129.3" y1="632.3" x2="129.3" y2="759.5" stroke="#000" stroke-width="1.35"/>
<path d="M129.3 626.3L132.9 633.3L125.7 633.3Z" fill="#000"/>
<text x="106.4" y="687.5" font-size="11.3" font-weight="bold" text-anchor="middle" transform="rotate(-90 106.4 687.5)">Fold change from</text>
<text x="120.4" y="687.2" font-size="11.3" font-weight="bold" text-anchor="middle" transform="rotate(-90 120.4 687.2)">siControl</text>
<text x="21.8" y="637" font-size="14" font-weight="bold" text-anchor="middle">C</text>
<rect x="235.5" y="634" width="7.6" height="7.6" fill="#fff" stroke="#000" stroke-width="1.1"/>
<text x="247" y="640.9" font-size="9.6" font-weight="bold" text-anchor="start">siPVT1a</text>
<rect x="305" y="634" width="7.6" height="7.6" fill="#747474" stroke="#000" stroke-width="1.1"/>
<text x="316.5" y="640.9" font-size="9.6" font-weight="bold" text-anchor="start">siPVT1b</text>
<rect x="379.7" y="633.7" width="7.8" height="7.8" fill="#000" stroke="#000" stroke-width="0.7"/>
<text x="391.6" y="640.9" font-size="9.6" font-weight="bold" text-anchor="start">siMYCb</text>
<text x="205.8" y="773.6" font-size="11.7" font-weight="bold" text-anchor="middle">CAOV4</text>
<text x="292.3" y="773.6" font-size="11.7" font-weight="bold" text-anchor="middle">HEY</text>
<text x="381.3" y="773.6" font-size="11.8" font-weight="bold" text-anchor="middle">OV90</text>
<path d="M204.6 777.5C205 783 207.5 785.3 213 785.3L281.3 785.3C286.8 785.3 289.3 783 289.7 777.5" fill="none" stroke="#000" stroke-width="1.2"/>
<text x="243.3" y="802" font-size="11.3" font-weight="bold" text-anchor="middle">MYC/PVT1 amplified</text>
<line x1="382.6" y1="781.3" x2="382.6" y2="788.8" stroke="#000" stroke-width="1.35"/>
<path d="M382.6 775.8L386.1 782.3L379.1 782.3Z" fill="#000"/>
<text x="383.9" y="802" font-size="11.3" font-weight="bold" text-anchor="middle">MYC/PVT1</text>
<text x="385.2" y="815.6" font-size="11.3" font-weight="bold" text-anchor="middle">non-amplified</text>
</svg>
</body>
</html>
